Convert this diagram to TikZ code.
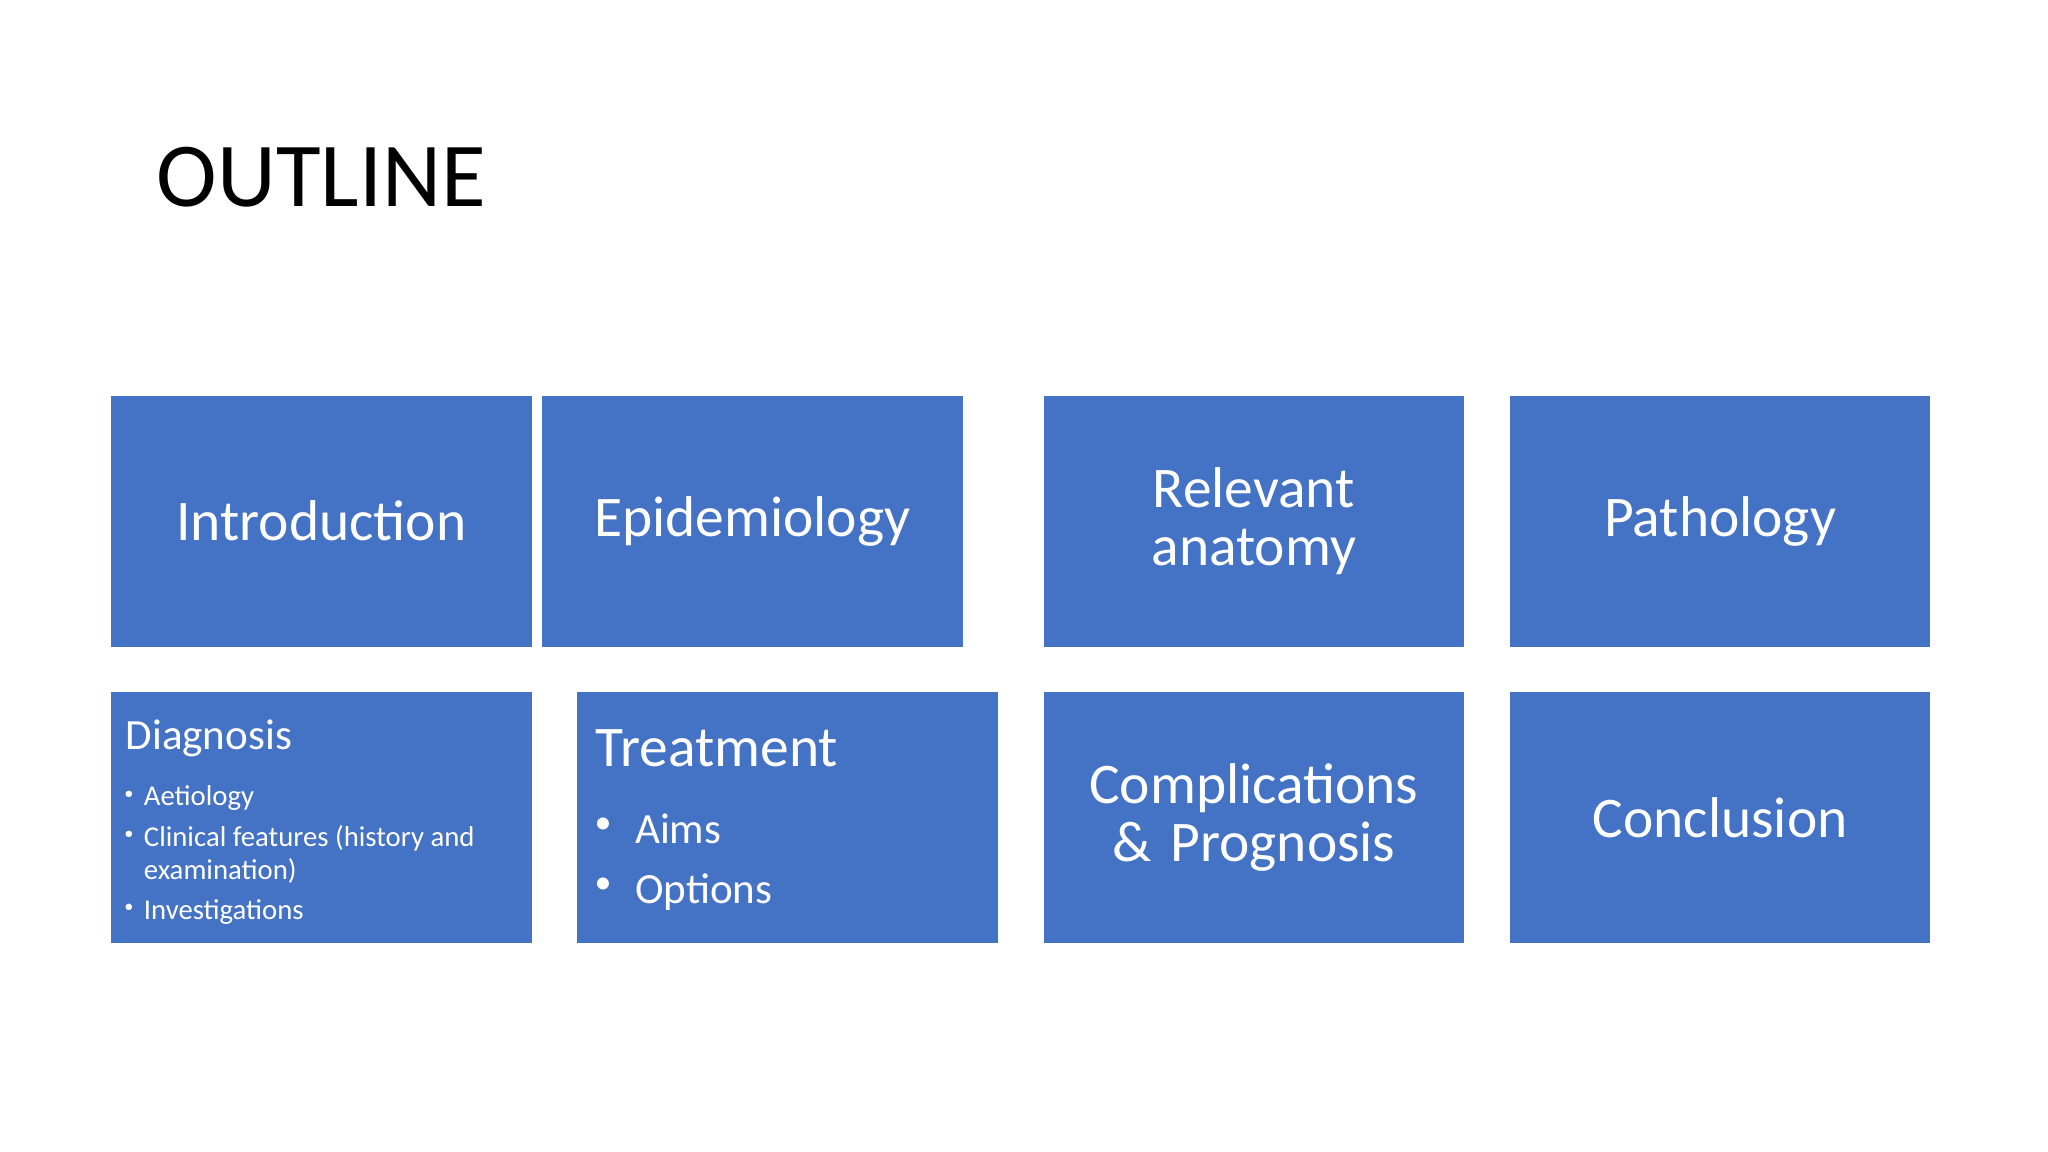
\documentclass[tikz,border=0pt]{standalone}
\usepackage{fontspec}
\setmainfont{Carlito}
\definecolor{boxblue}{HTML}{4472C4}
\begin{document}
\begin{tikzpicture}[x=1pt,y=-1pt,
  box/.style={fill=boxblue,draw=none},
  big/.style={text=white,font=\fontsize{44}{50}\selectfont,align=center},
  small/.style={text=white,font=\fontsize{22}{25}\selectfont,anchor=base west,inner sep=0},
  mid/.style={text=white,font=\fontsize{33}{38}\selectfont,anchor=base west,inner sep=0}]
\useasboundingbox (0,0) rectangle (1568,882);
\node[anchor=base west,inner sep=0,font=\fontsize{70}{80}\selectfont] (title) at (120,158) {OUTLINE};
% row 1
\fill[box] (85,303) rectangle (407,495) node[big,midway] (intro) {Introduction};
\fill[box] (415,303) rectangle (737,495) node[big,midway] (epi) {Epidemiology};
\fill[box] (799,303) rectangle (1121,495) node[big,midway,text width=300pt] (anat) {Relevant\\[-6pt]anatomy};
\fill[box] (1156,303) rectangle (1478,495) node[big,midway] (path) {Pathology};
% row 2
\fill[box] (85,530) rectangle (407,722);
\fill[box] (442,530) rectangle (764,722);
\fill[box] (799,530) rectangle (1121,722) node[big,midway,text width=300pt] (comp) {Complications\\[-6pt]\&\ Prognosis};
\fill[box] (1156,530) rectangle (1478,722) node[big,midway] (conc) {Conclusion};
% diagnosis
\node[mid] (diag) at (96,574) {Diagnosis};
\node[small,font=\fontsize{14}{16}\selectfont] (b1) at (95,612) {•};
\node[small] (d1) at (110,617) {Aetiology};
\node[small,font=\fontsize{14}{16}\selectfont] (b2) at (95,643) {•};
\node[small] (d2) at (110,648) {Clinical features (history and};
\node[small] (d3) at (110,673) {examination)};
\node[small,font=\fontsize{14}{16}\selectfont] (b3) at (95,699) {•};
\node[small] (d4) at (110,704) {Investigations};
% treatment
\node[text=white,font=\fontsize{44}{50}\selectfont,anchor=base west,inner sep=0] (treat) at (456,587) {Treatment};
\node[mid,font=\fontsize{26}{30}\selectfont] (tb1) at (455,638) {•};
\node[mid] (t1) at (486,646) {Aims};
\node[mid,font=\fontsize{26}{30}\selectfont] (tb2) at (455,684) {•};
\node[mid] (t2) at (486,692) {Options};
\end{tikzpicture}
\end{document}
